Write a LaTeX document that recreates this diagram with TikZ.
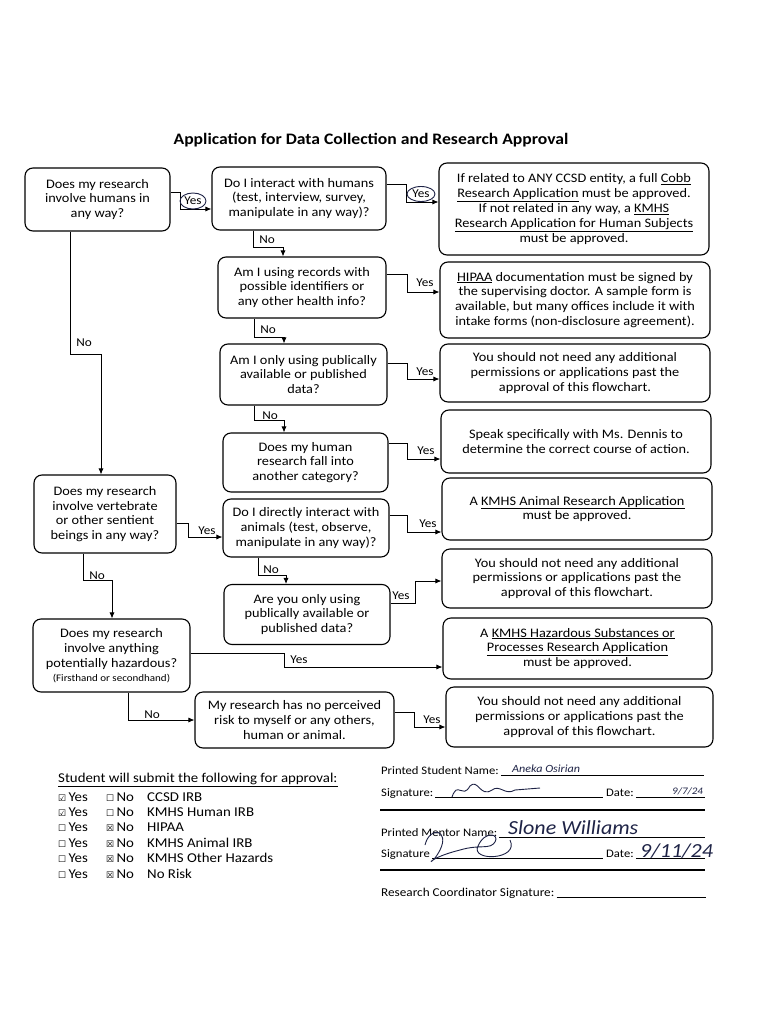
\documentclass[tikz,border=0pt]{standalone}
\usepackage{fontspec}
\setmainfont{Carlito}[FakeStretch=1.1]
\newfontfamily\symfont{DejaVu Sans}
\usetikzlibrary{arrows.meta}
\definecolor{inkc}{RGB}{30,35,70}
\begin{document}
\begin{tikzpicture}[x=1pt,y=-1pt,
  box/.style={draw, line width=1.1pt, rounded corners=8pt, align=center, inner sep=2pt,
    font=\fontsize{13}{14.8}\selectfont},
  sz/.style 2 args={minimum width=#1pt, minimum height=#2pt},
  conn/.style={line width=0.8pt, -{Latex[length=6pt,width=5pt]}},
  lbl/.style={font=\fontsize{12}{13}\selectfont, inner sep=0pt},
  ink/.style={draw=inkc, line width=0.9pt},
  form/.style={font=\fontsize{11.5}{13}\selectfont, inner sep=0pt, anchor=base west},
  chk/.style={font=\fontsize{13.5}{15}\selectfont, inner sep=0pt, anchor=base west},
  rule/.style={line width=0.7pt},
  sep/.style={line width=1.6pt}]
\useasboundingbox[fill=white] (0,0) rectangle (768,1024);

% title
\node[font=\fontsize{16}{18}\selectfont\bfseries] (title) at (371,140) {Application for Data Collection and Research Approval};

% boxes
\node[box, sz={145}{63}] (A) at (97.5,199.5) {Does my research\\involve humans in\\any way?};
\node[box, sz={174}{63}] (B) at (299,198.5) {Do I interact with humans\\(test, interview, survey,\\manipulate in any way)?};
\node[box, sz={270}{92}] (C) at (574,209) {If related to ANY CCSD entity, a full \underline{Cobb}\\\underline{Research Application} must be approved.\\If not related in any way, a \underline{KMHS}\\\underline{Research Application for Human Subjects}\\must be approved.};
\node[box, sz={168}{61}] (D) at (302,287.5) {Am I using records with\\possible identifiers or\\any other health info?};
\node[box, sz={270}{76}] (E) at (575,300) {\underline{HIPAA} documentation must be signed by\\the supervising doctor. A sample form is\\available, but many offices include it with\\intake forms (non-disclosure agreement).};
\node[box, sz={167}{61}] (F) at (303.5,374.5) {Am I only using publically\\available or published\\data?};
\node[box, sz={270}{58}] (G) at (575,373) {You should not need any additional\\permissions or applications past the\\approval of this flowchart.};
\node[box, sz={165}{59}] (H) at (305.5,462.5) {Does my human\\research fall into\\another category?};
\node[box, sz={270}{63}] (I) at (576,441.5) {Speak specifically with Ms. Dennis to\\determine the correct course of action.};
\node[box, sz={142}{78}] (J) at (105,514) {Does my research\\involve vertebrate\\or other sentient\\beings in any way?};
\node[box, sz={166}{58}] (K) at (306,528) {Do I directly interact with\\animals (test, observe,\\manipulate in any way)?};
\node[box, sz={270}{62}] (L) at (577,509) {A \underline{KMHS Animal Research Application}\\must be approved.};
\node[box, sz={166}{60}] (M) at (307,614.5) {Are you only using\\publically available or\\published data?};
\node[box, sz={270}{59}] (N) at (577,578.5) {You should not need any additional\\permissions or applications past the\\approval of this flowchart.};
\node[box, sz={157}{73}] (O) at (111.5,655.5) {Does my research\\involve anything\\potentially hazardous?\\[-1pt]{\fontsize{10}{11}\selectfont (Firsthand or secondhand)}};
\node[box, sz={269}{61}] (P) at (577.5,648.5) {A \underline{KMHS Hazardous Substances or}\\\underline{Processes Research Application}\\must be approved.};
\node[box, sz={199}{56}] (Q) at (294.5,720) {My research has no perceived\\risk to myself or any others,\\human or animal.};
\node[box, sz={267}{60}] (R) at (579.5,717) {You should not need any additional\\permissions or applications past the\\approval of this flowchart.};

% connectors
\draw[conn] ([yshift=7.5pt]A.east) -- ++(10,0) |- ([yshift=-10.5pt]B.west);
\draw[conn] ([yshift=14.5pt]B.east) -- ++(20,0) |- ([yshift=7pt]C.west);
\draw[conn] ([xshift=-46pt]B.south) -- ++(0,17) -| ([xshift=-19pt]D.north);
\draw[conn] ([yshift=13.5pt]D.east) -- ++(21,0) |- ([yshift=8pt]E.west);
\draw[conn] ([xshift=-48pt]D.south) -- ++(0,19) -| ([xshift=-19.5pt]F.north);
\draw[conn] ([yshift=11.5pt]F.east) -- ++(20,0) |- ([yshift=-6pt]G.west);
\draw[conn] ([xshift=-49.5pt]F.south) -- ++(0,15) -| ([xshift=-21.5pt]H.north);
\draw[conn] ([yshift=19.5pt]H.east) -- ++(19,0) |- ([yshift=-17.5pt]I.west);
\draw[conn] ([xshift=-27.5pt]A.south) -- ++(0,123) -| ([xshift=-4pt]J.north);
\draw[conn] ([yshift=-9pt]J.east) -- ++(12,0) |- ([yshift=-9pt]K.west);
\draw[conn] ([yshift=13pt]K.east) -- ++(18,0) |- ([yshift=-23pt]L.west);
\draw[conn] ([xshift=-48pt]K.south) -- ++(0,18) -| ([xshift=-21pt]M.north);
\draw[conn] ([yshift=11.5pt]M.east) -- ++(25,0) |- ([yshift=-2.5pt]N.west);
\draw[conn] ([xshift=-22pt]J.south) -- ++(0,27) -| ([xshift=0.5pt]O.north);
\draw[conn] ([yshift=2.5pt]O.east) -- ++(94,0) |- ([yshift=-18.5pt]P.west);
\draw[conn] ([xshift=16.5pt]O.south) |- (Q.west);
\draw[conn] ([yshift=8pt]Q.east) -- ++(20,0) |- ([yshift=-10pt]R.west);

% connector labels
\node[lbl] (y1) at (193,201) {Yes};
\node[lbl] (y2) at (421,194) {Yes};
\node[lbl] (n1) at (267,240) {No};
\node[lbl] (y3) at (425,283) {Yes};
\node[lbl] (n2) at (268,330) {No};
\node[lbl] (y4) at (425,372) {Yes};
\node[lbl] (n3) at (270,416) {No};
\node[lbl] (y5) at (426,451) {Yes};
\node[lbl] (n4) at (84,343) {No};
\node[lbl] (y6) at (207,531) {Yes};
\node[lbl] (y7) at (428,524) {Yes};
\node[lbl] (n5) at (271,570) {No};
\node[lbl] (y8) at (401,596) {Yes};
\node[lbl] (n6) at (97,576) {No};
\node[lbl] (y9) at (299,660) {Yes};
\node[lbl] (n7) at (152,715) {No};
\node[lbl] (y10) at (432,720) {Yes};

% hand-drawn circles around Yes
\draw[ink] (y1.center) ellipse [x radius=13pt, y radius=8pt];
\draw[ink] (y2.center) ellipse [x radius=14pt, y radius=7.5pt];

% checklist
\node[chk] (cl) at (58,782) {\underline{Student will submit the following for approval:}};
\foreach \yy/\ys/\ns/\lab [count=\i] in {801/☑/☐/CCSD IRB, 816/☑/☐/KMHS Human IRB, 831/☐/☒/HIPAA, 847/☐/☒/KMHS Animal IRB, 862/☐/☒/KMHS Other Hazards, 878/☐/☒/No Risk}{
  \node[chk] (ys\i) at (58,\yy) {{\symfont\fontsize{9}{10}\selectfont\ys}\,Yes};
  \node[chk] (ns\i) at (106,\yy) {{\symfont\fontsize{9}{10}\selectfont\ns}\,No};
  \node[chk] (lb\i) at (147,\yy) {\lab};
}

% signature block
\node[form] (sn) at (381,774) {Printed Student Name:};
\draw[rule] (sn.base east) ++(2,1) -- (704,775);
\node[form] (sg1) at (381,796) {Signature:};
\node[form] (dt1) at (606,796) {Date:};
\draw[rule] (sg1.base east) ++(2,1) -- ([xshift=-3pt,yshift=-1pt]dt1.base west);
\draw[rule] (dt1.base east) ++(2,1) -- (705,797);
\draw[sep] (380,810) -- (705,810);
\node[form] (mn) at (381,836) {Printed Mentor Name:};
\draw[rule] (mn.base east) ++(2,1) -- (705,837);
\node[form] (sg2) at (381,857) {Signature};
\node[form] (dt2) at (606,857) {Date:};
\draw[rule] (sg2.base east) ++(2,1) -- ([xshift=-3pt,yshift=-1pt]dt2.base west);
\draw[rule] (dt2.base east) ++(2,1) -- (705,858);
\draw[sep] (380,870) -- (705,870);
\node[form, font=\fontsize{12}{13}\selectfont] (rc) at (381,896) {Research Coordinator Signature:};
\draw[rule] (rc.base east) ++(2,1) -- (706,897);

% handwriting
\node[form, text=inkc, font=\fontsize{11}{13}\selectfont\itshape] (hn1) at (512,772) {Aneka Osirian};
\node[form, text=inkc, font=\fontsize{10}{12}\selectfont\itshape] (hd1) at (672,794) {9/7/24};
\node[form, text=inkc, font=\fontsize{20}{22}\selectfont\itshape] (hn2) at (508,834) {Slone Williams};
\node[form, text=inkc, font=\fontsize{20}{22}\selectfont\itshape] (hd2) at (640,857) {9/11/24};
\draw[ink] (452,797) .. controls (458,780) and (462,800) .. (470,786) .. controls (478,778) and (480,798) .. (492,790) .. controls (500,784) and (505,796) .. (515,790) -- (540,788);
\draw[ink] (425,845) .. controls (430,825) and (450,830) .. (440,850) .. controls (430,870) and (420,860) .. (460,850) .. controls (480,844) and (490,850) .. (495,842) .. controls (500,834) and (485,830) .. (478,846) .. controls (470,862) and (520,860) .. (510,840);
\end{tikzpicture}
\end{document}
